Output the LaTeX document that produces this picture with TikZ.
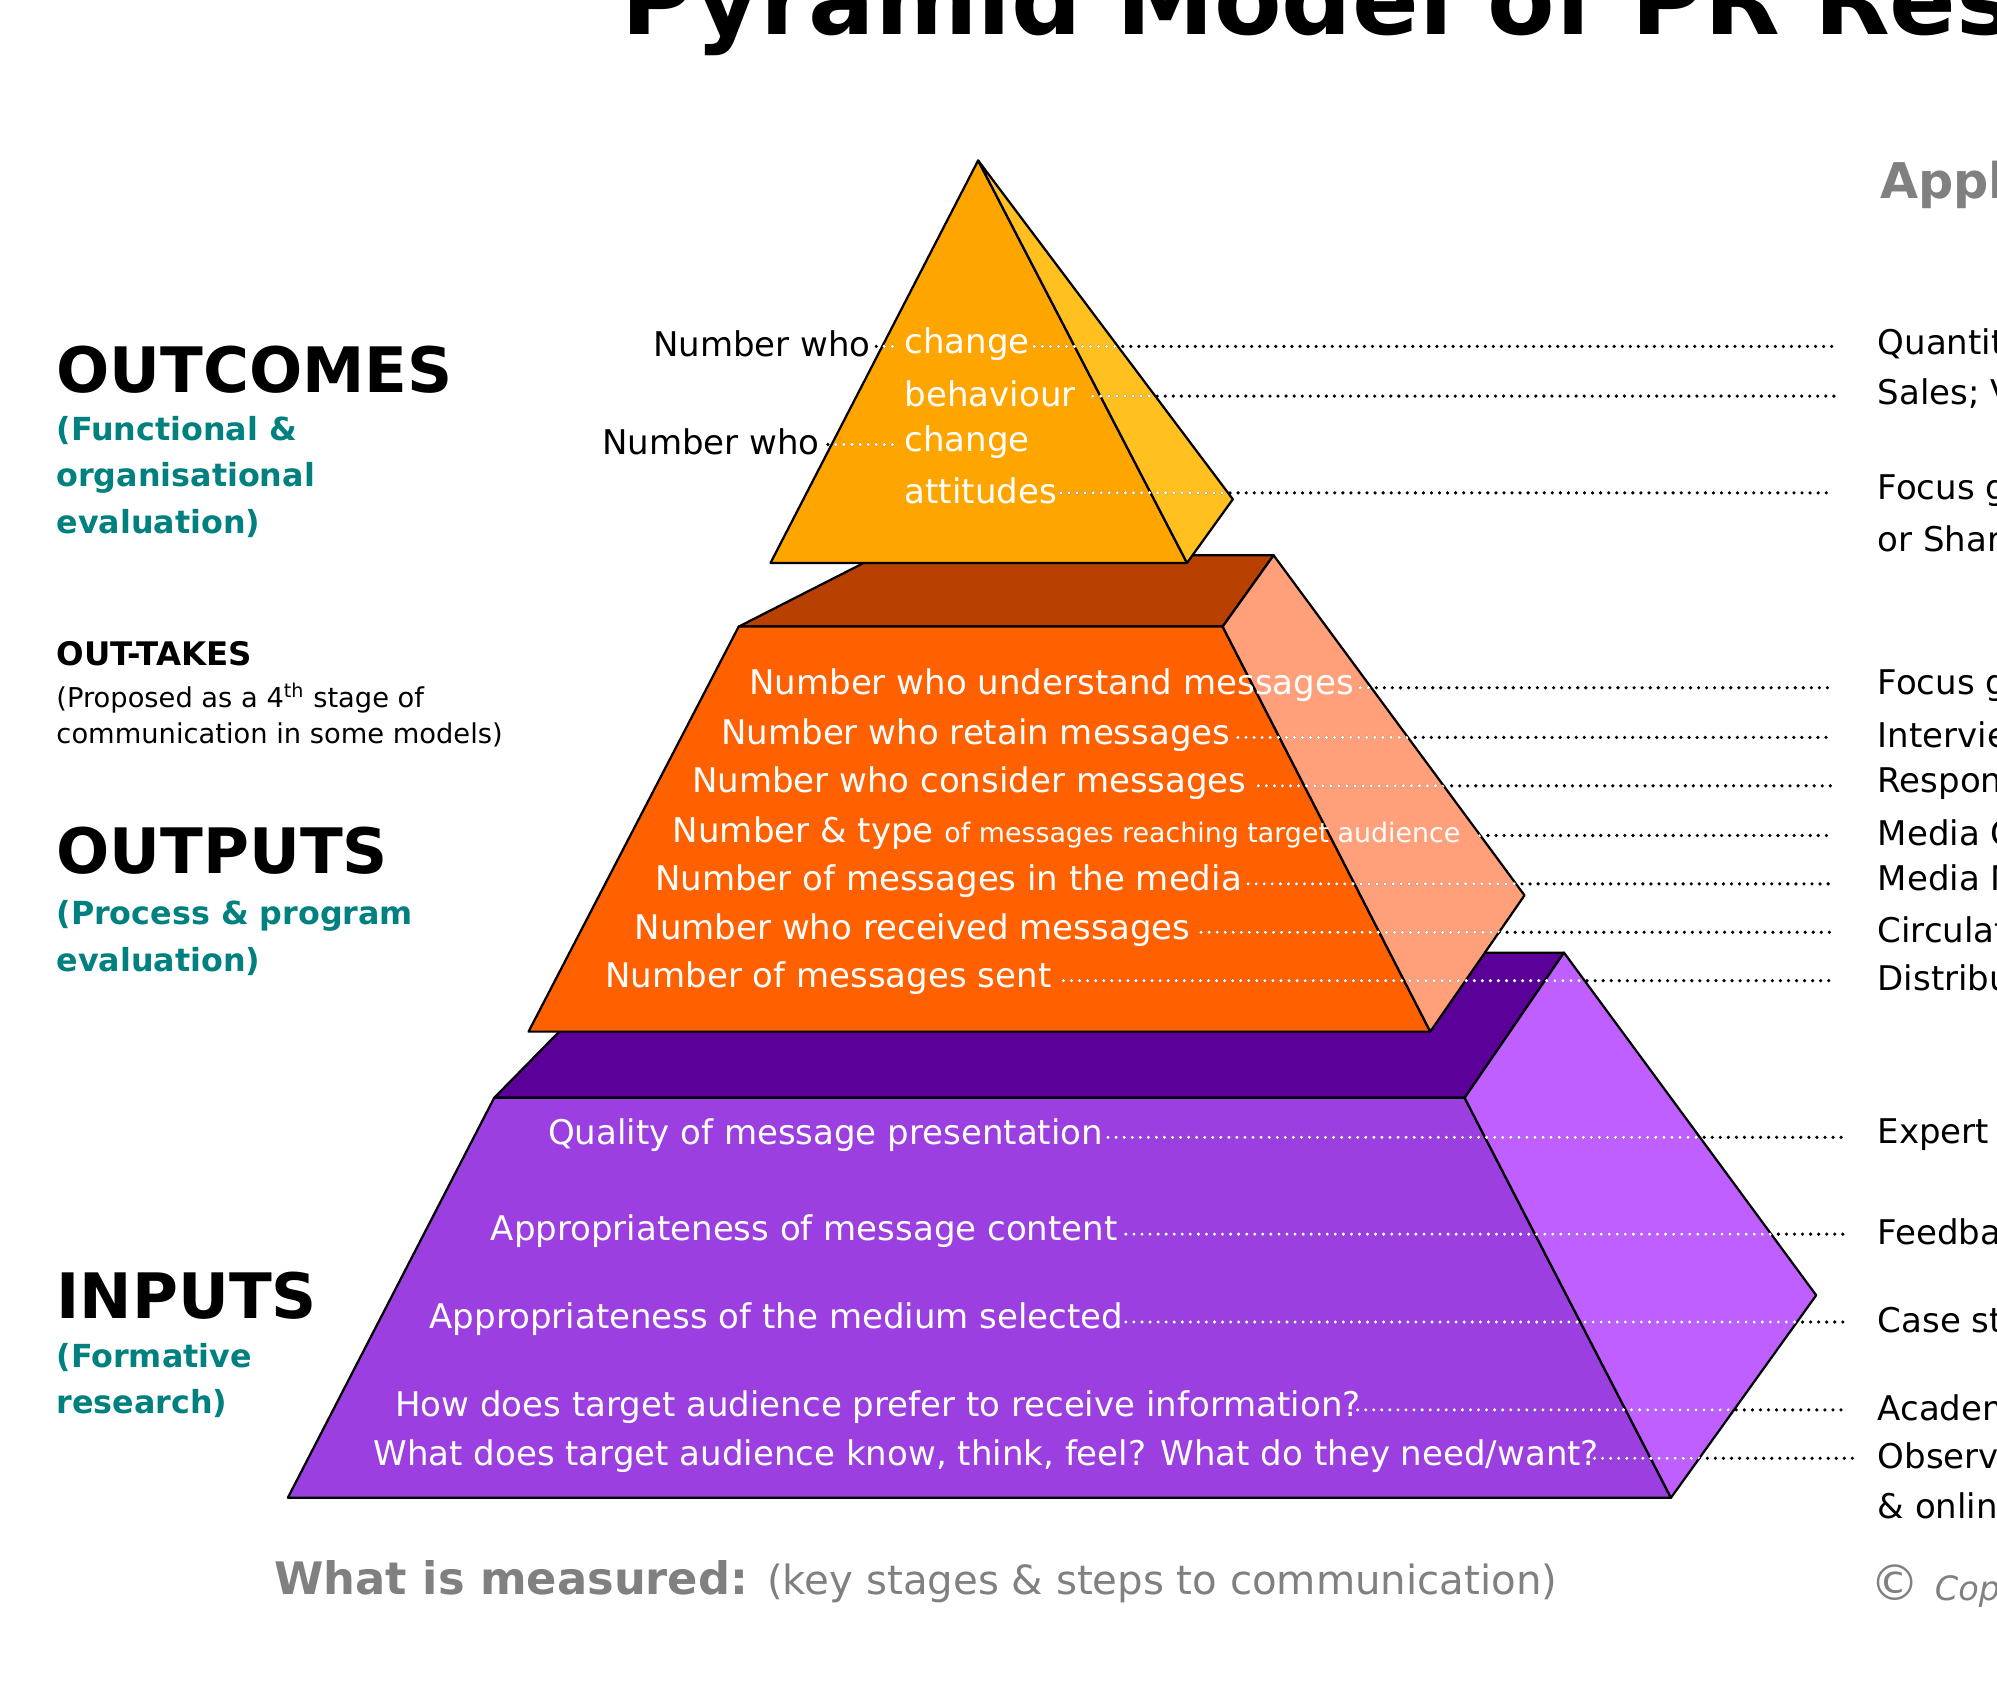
\documentclass[tikz,border=0pt]{standalone}
\usepackage{fontspec}
\setmainfont{DejaVu Sans}
\usetikzlibrary{positioning}
\definecolor{teal}{HTML}{00807F}
\definecolor{greytext}{HTML}{808080}
\tikzset{
  lbl/.style={anchor=west,inner sep=0pt,font=\fontsize{15.2}{17}\selectfont},
  wlbl/.style={lbl,text=white},
  head/.style={anchor=west,inner sep=0pt,font=\fontsize{28}{30}\bfseries\selectfont},
  sub/.style={anchor=west,inner sep=0pt,text=teal,font=\fontsize{14.2}{16}\bfseries\selectfont},
  face/.style={draw=black,line width=1pt,line join=round},
  dots/.style={line width=1.6pt,line cap=round,dash pattern=on 0pt off 3.6pt}
}
\newcommand{\leader}[3]{\draw[dots] (#2,#1) -- (#3,#1);}
\newcommand{\allleaders}{%
  \leader{272}{812}{1440}\leader{311}{858}{1440}\leader{387}{833}{1440}
  \leader{272}{688}{704}\leader{349}{650}{704}
  \leader{540}{1068}{1440}\leader{579}{972}{1440}\leader{617}{988}{1440}
  \leader{656}{1162}{1440}\leader{694}{980}{1440}\leader{732}{943}{1440}
  \leader{770}{835}{1440}
  \leader{893}{870}{1450}\leader{969}{884}{1450}\leader{1038}{884}{1452}
  \leader{1107}{1066}{1450}\leader{1145}{1252}{1456}}
\begin{document}
\begin{tikzpicture}[x=0.02cm,y=-0.02cm]
\useasboundingbox (0,0) rectangle (1568,1332);
% bottom block
\draw[face,fill={rgb,255:red,91;green,0;blue,153}] (388,862) -- (1150,862) -- (1228,748) -- (500,748) -- cycle;
\draw[face,fill={rgb,255:red,155;green,63;blue,224}] (388,862) -- (1150,862) -- (1312,1176) -- (226,1176) -- cycle;
\draw[face,fill={rgb,255:red,191;green,95;blue,255}] (1150,862) -- (1228,748) -- (1426,1017) -- (1312,1176) -- cycle;
% middle block
\draw[face,fill={rgb,255:red,184;green,64;blue,0}] (580,492) -- (960,492) -- (1000,436) -- (690,436) -- cycle;
\draw[face,fill={rgb,255:red,255;green,96;blue,0}] (580,492) -- (960,492) -- (1123,810) -- (415,810) -- cycle;
\draw[face,fill={rgb,255:red,255;green,160;blue,122}] (960,492) -- (1000,436) -- (1197,703) -- (1123,810) -- cycle;
% top pyramid
\draw[face,fill={rgb,255:red,255;green,165;blue,0}] (768,126) -- (932,442) -- (605,442) -- cycle;
\draw[face,fill={rgb,255:red,255;green,192;blue,32}] (768,126) -- (968,392) -- (932,442) -- cycle;
% leaders
\allleaders
\begin{scope}
  \clip (768,126) -- (968,392) -- (932,442) -- (605,442) -- cycle
        (580,492) -- (1000,436) -- (1197,703) -- (1123,810) -- (415,810) -- cycle
        (388,862) -- (1228,748) -- (1426,1017) -- (1312,1176) -- (226,1176) -- cycle;
  \begin{scope}[white]\allleaders\end{scope}
\end{scope}
% title
\node[anchor=west,inner sep=0pt,font=\fontsize{44}{48}\bfseries\selectfont] (title) at (488,6) {Pyramid Model of PR Research};
\node[anchor=west,inner sep=0pt,text=greytext,font=\fontsize{22}{24}\bfseries\selectfont] (appl) at (1476,145) {Applications};
% left headings
\node[head] (outcomes) at (44,290) {OUTCOMES};
\node[sub] (oc1) at (44,338) {(Functional \&};
\node[sub] (oc2) at (44,375) {organisational};
\node[sub] (oc3) at (44,411) {evaluation)};
\node[anchor=west,inner sep=0pt,font=\fontsize{14.5}{17}\bfseries\selectfont] (outtakes) at (44,513) {OUT-TAKES};
\node[anchor=west,inner sep=0pt,font=\fontsize{12.2}{14}\selectfont] (ot1) at (44,548) {(Proposed as a 4\textsuperscript{th} stage of};
\node[anchor=west,inner sep=0pt,font=\fontsize{12.2}{14}\selectfont] (ot2) at (44,577) {communication in some models)};
\node[head] (outputs) at (44,668) {OUTPUTS};
\node[sub] (op1) at (44,719) {(Process \& program};
\node[sub] (op2) at (44,755) {evaluation)};
\node[head] (inputs) at (44,1017) {INPUTS};
\node[sub] (in1) at (44,1066) {(Formative};
\node[sub] (in2) at (44,1102) {research)};
% top pyramid texts
\node[lbl,anchor=east] (nw1) at (684,270) {Number who};
\node[wlbl] (t1) at (710,270) {change};
\node[wlbl] (t2) at (710,309) {behaviour};
\node[lbl,anchor=east] (nw2) at (644,347) {Number who};
\node[wlbl] (t3) at (710,347) {change};
\node[wlbl] (t4) at (710,385) {attitudes};
% middle texts
\node[wlbl] (m1) at (588,538) {Number who understand messages};
\node[wlbl] (m2) at (566,577) {Number who retain messages};
\node[wlbl] (m3) at (543,615) {Number who consider messages};
\node[wlbl] (m4) at (528,654) {Number \& type {\fontsize{12}{13}\selectfont of messages reaching target audience}};
\node[wlbl] (m5) at (514,692) {Number of messages in the media};
\node[wlbl] (m6) at (498,730) {Number who received messages};
\node[wlbl] (m7) at (475,768) {Number of messages sent};
% bottom texts
\node[wlbl] (b1) at (430,891) {Quality of message presentation};
\node[wlbl] (b2) at (385,967) {Appropriateness of message content};
\node[wlbl] (b3) at (337,1036) {Appropriateness of the medium selected};
\node[wlbl] (b4) at (310,1105) {How does target audience prefer to receive information?};
\node[wlbl] (b5) at (293,1143) {What does target audience know, think, feel? What do they need/want?};
% right column
\foreach \y/\t [count=\i] in {270/Quantitative, 309/Sales; Votes, 385/Focus groups, 423/or Share, 538/Focus groups, 577/Interviews, 615/Response, 654/Media Content, 692/Media Monitoring, 730/Circulation, 768/Distribution, 891/Expert, 967/Feedback, 1036/Case studies, 1105/Academic, 1143/Observation, 1182/\& online}
  \node[lbl] (r\i) at (1474,\y) {\t};
% bottom line
\node[anchor=west,inner sep=0pt,text=greytext,font=\fontsize{20}{22}\selectfont] (measured) at (215,1242) {\textbf{What is measured:} {\fontsize{18}{20}\selectfont(key stages \& steps to communication)}};
\node[anchor=west,inner sep=0pt,text=greytext,font=\fontsize{16}{18}\selectfont] (copy) at (1468,1245) {\fontsize{22}{22}\selectfont©\ \fontsize{15}{18}\itshape Copyright};
\end{tikzpicture}
\end{document}
